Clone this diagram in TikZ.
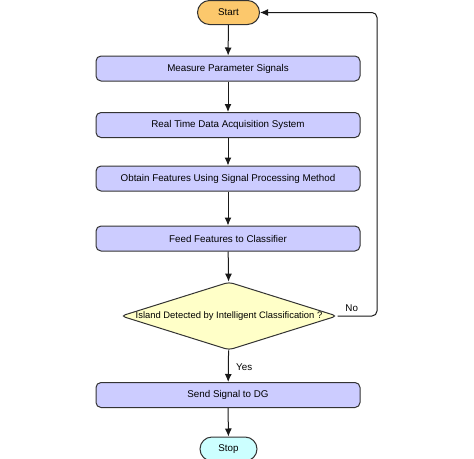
\documentclass[tikz,border=0pt]{standalone}
\usepackage{fontspec}
\setmainfont{Liberation Sans}
\usetikzlibrary{shapes.geometric,shapes.misc,arrows.meta}
\definecolor{startfill}{HTML}{FCC86C}
\definecolor{procfill}{HTML}{CCCCFF}
\definecolor{askfill}{HTML}{FFFFC8}
\definecolor{stopfill}{HTML}{CCFFFF}
\begin{document}
\begin{tikzpicture}[
    x=1pt, y=-1pt,
    font=\fontsize{9.8}{11}\selectfont,
    terminal/.style={rounded rectangle, draw=black!80, line width=1pt, minimum width=62pt, minimum height=24pt, inner sep=0pt},
    process/.style={rectangle, rounded corners=5pt, draw=black!80, line width=1pt, fill=procfill, minimum width=264pt, minimum height=25pt, inner sep=0pt},
    decision/.style={diamond, rounded corners=4pt, draw=black!80, line width=1pt, fill=askfill, minimum width=216pt, minimum height=68pt, inner sep=0pt, font=\fontsize{9.4}{11}\selectfont},
    arrow/.style={draw=black!90, line width=1pt, -{Latex[length=8pt,width=7pt]}}
]
    \useasboundingbox (0,0) rectangle (474,458);
    \node[terminal, fill=startfill] (start) at (228.5,12.5) {Start};
    \node[process] (measure) at (228,68.5) {Measure Parameter Signals};
    \node[process] (acquire) at (228,125) {Real Time Data Acquisition System};
    \node[process] (features) at (228,178.5) {Obtain Features Using Signal Processing Method};
    \node[process] (classify) at (228,238.5) {Feed Features to Classifier};
    \node[decision] (detect) at (229,316) {\makebox[0pt]{Island Detected by Intelligent Classification ?}};
    \node[process] (send) at (228,395) {Send Signal to DG};
    \node[terminal, fill=stopfill, minimum width=57pt] (stop) at (228.5,449) {Stop};
    \coordinate (loop) at (377,12.5);

    \draw[arrow] (start) -- (measure);
    \draw[arrow] (measure) -- (acquire);
    \draw[arrow] (acquire) -- (features);
    \draw[arrow] (features) -- (classify);
    \draw[arrow] (classify) -- (detect);
    \draw[arrow] (detect) -- node[right, xshift=4pt, yshift=-1pt] {Yes} (send);
    \draw[arrow] (send) -- (stop);
    \draw[arrow, rounded corners=5pt] (detect.east) -| node[pos=0.18, above=1pt] {No} (loop) -- (start.east);
\end{tikzpicture}
\end{document}
